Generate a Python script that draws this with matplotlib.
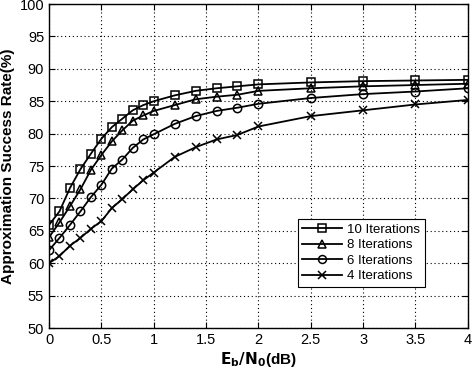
import matplotlib
matplotlib.use("Agg")
import matplotlib.pyplot as plt

plt.rcParams['font.family'] = ['Liberation Sans', 'DejaVu Sans']

# Eb/N0 points (dB)
snr = [0, 0.1, 0.2, 0.3, 0.4, 0.5, 0.6, 0.7, 0.8, 0.9, 1.0,
       1.2, 1.4, 1.6, 1.8, 2.0, 2.5, 3.0, 3.5, 4.0]

# success rate (%) per number of iterations
it10 = [65.9, 68.0, 71.6, 74.5, 76.9, 79.2, 81.0, 82.3, 83.6, 84.4, 85.0,
        85.9, 86.6, 87.0, 87.3, 87.6, 87.9, 88.1, 88.2, 88.3]
it8 = [64.0, 66.3, 68.8, 71.4, 74.4, 76.7, 78.8, 80.5, 82.0, 82.8, 83.5,
       84.4, 85.3, 85.7, 86.0, 86.6, 87.0, 87.3, 87.5, 87.7]
it6 = [62.0, 63.9, 65.9, 68.0, 70.2, 72.1, 74.6, 76.0, 77.8, 79.1, 79.9,
       81.5, 82.7, 83.5, 84.0, 84.6, 85.5, 86.1, 86.5, 87.0]
it4 = [60.0, 61.1, 62.7, 63.9, 65.3, 66.5, 68.5, 69.9, 71.4, 72.8, 74.0,
       76.4, 77.9, 79.1, 79.8, 81.1, 82.7, 83.6, 84.5, 85.2]

series = [
    ('10 Iterations', it10, 's'),
    ('8 Iterations', it8, '^'),
    ('6 Iterations', it6, 'o'),
    ('4 Iterations', it4, 'x'),
]

fig = plt.figure(figsize=(4.74, 3.88), dpi=100)
ax = fig.add_axes([0.1034, 0.1546, 0.8836, 0.835])

for label, vals, mk in series:
    ax.plot(snr, vals, color='black', linewidth=1.3, marker=mk, markersize=6,
            markerfacecolor='none', markeredgecolor='black', markeredgewidth=1.1,
            label=label)

ax.set_xlim(0, 4)
ax.set_ylim(50, 100)
ax.set_xticks([0, 0.5, 1, 1.5, 2, 2.5, 3, 3.5, 4])
ax.set_xticklabels(['0', '0.5', '1', '1.5', '2', '2.5', '3', '3.5', '4'])
ax.set_yticks(range(50, 101, 5))
ax.tick_params(direction='in', length=4, labelsize=10.5, top=True, right=True,
               width=0.8)
ax.grid(True, linestyle=(0, (1, 2.5)), color='black', linewidth=0.8)
for s in ax.spines.values():
    s.set_linewidth(1.0)

ax.set_xlabel(r'$\mathbf{E_b/N_0}$(dB)', fontsize=11, fontweight='bold',
              labelpad=2)
ax.set_ylabel('Approximation Success Rate(%)', fontsize=11, fontweight='bold',
              labelpad=3)

leg = ax.legend(loc='lower right', bbox_to_anchor=(0.897, 0.127),
                borderaxespad=0, fontsize=9.5, handlelength=3.0,
                fancybox=False, framealpha=1, edgecolor='black',
                labelspacing=0.25, handletextpad=0.4, borderpad=0.35,
                markerscale=0.95)
leg.get_frame().set_linewidth(0.8)

fig.savefig('out.png', dpi=100)
